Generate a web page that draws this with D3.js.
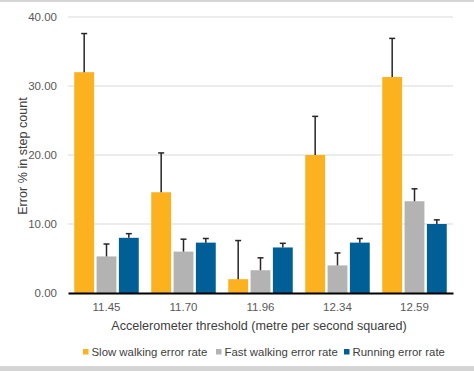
<!DOCTYPE html>
<html><head><meta charset="utf-8">
<script src="https://cdn.jsdelivr.net/npm/d3@7"></script>
<style>body{margin:0;background:#fff}svg{display:block}</style>
</head><body>
<script>
const categories = ["11.45","11.70","11.96","12.34","12.59"];
const seriesNames = ["Slow walking error rate","Fast walking error rate","Running error rate"];
const slowWalking = [32.0, 14.6, 2.0, 20.0, 31.3];
const slowWalkingErr = [5.6, 5.7, 5.6, 5.6, 5.6];
const fastWalking = [5.3, 6.0, 3.3, 4.0, 13.3];
const fastWalkingErr = [1.8, 1.8, 1.8, 1.8, 1.8];
const running = [8.0, 7.3, 6.6, 7.3, 10.0];
const runningErr = [0.6, 0.6, 0.6, 0.6, 0.6];
const yTicks = [0, 10, 20, 30, 40];
const colors = ["#FCB11F", "#B3B3B3", "#005F96"];

const W = 474, H = 371;
const m = {left: 68, right: 21, top: 17, bottom: 78};
const svg = d3.select("body").append("svg").attr("width", W).attr("height", H)
  .style("font-family", "'Liberation Sans', Arial, sans-serif");

svg.append("rect").attr("x",0).attr("y",0).attr("width",W).attr("height",2).attr("fill","#d4d4d4");
svg.append("rect").attr("x",0).attr("y",366).attr("width",W).attr("height",5).attr("fill","#d4d4d4");

const x = d3.scaleBand().domain(categories).range([m.left, W - m.right]).paddingInner(0).paddingOuter(0);
const y = d3.scaleLinear().domain([0, 40]).range([H - m.bottom, m.top]);
const x1 = d3.scaleBand().domain(seriesNames).range([0, x.bandwidth()]).paddingInner(0.11).paddingOuter(0.28);

// gridlines
svg.append("g").selectAll("line").data(yTicks.filter(d=>d>0)).join("line")
  .attr("x1", m.left).attr("x2", W - m.right)
  .attr("y1", d=>y(d)).attr("y2", d=>y(d))
  .attr("stroke", "#d9d9d9").attr("stroke-width", 1);

// y axis
const ya = svg.append("g").attr("transform", `translate(${m.left},0)`)
  .call(d3.axisLeft(y).tickValues(yTicks).tickFormat(d3.format(".2f")).tickSize(0).tickPadding(11));
ya.select(".domain").remove();
ya.selectAll("text").attr("font-size", 11.5).attr("fill", "#595959").style("font-family","inherit");

const data = [
  {vals: slowWalking, errs: slowWalkingErr},
  {vals: fastWalking, errs: fastWalkingErr},
  {vals: running, errs: runningErr}
];

const items = [];
data.forEach((s, si) => s.vals.forEach((v, ci) => items.push({cat: categories[ci], ser: seriesNames[si], si, v, e: s.errs[ci]})));

const g = svg.append("g");
g.selectAll("rect").data(items).join("rect")
  .attr("x", d => x(d.cat) + x1(d.ser))
  .attr("width", x1.bandwidth())
  .attr("y", d => y(d.v))
  .attr("height", d => y(0) - y(d.v))
  .attr("fill", d => colors[d.si]);

// error bars
const eb = svg.append("g").attr("stroke", "#262626").attr("stroke-width", 1.5);
eb.selectAll("line.v").data(items).join("line").attr("class","v")
  .attr("x1", d => x(d.cat) + x1(d.ser) + x1.bandwidth()/2)
  .attr("x2", d => x(d.cat) + x1(d.ser) + x1.bandwidth()/2)
  .attr("y1", d => y(d.v)).attr("y2", d => y(d.v + d.e));
eb.selectAll("line.c").data(items).join("line").attr("class","c")
  .attr("x1", d => x(d.cat) + x1(d.ser) + x1.bandwidth()/2 - 3)
  .attr("x2", d => x(d.cat) + x1(d.ser) + x1.bandwidth()/2 + 3)
  .attr("y1", d => y(d.v + d.e)).attr("y2", d => y(d.v + d.e));

// x axis
const xa = svg.append("g").attr("transform", `translate(0,${y(0)})`)
  .call(d3.axisBottom(x).tickSize(0).tickPadding(10));
xa.select(".domain").attr("stroke", "#000").attr("stroke-width", 2);
xa.selectAll("text").attr("font-size", 11.5).attr("fill", "#595959").style("font-family","inherit");

// titles
svg.append("text").attr("x", 259).attr("y", 330)
  .attr("text-anchor", "middle").attr("font-size", 12.6).attr("fill", "#404040")
  .text("Accelerometer threshold (metre per second squared)");
svg.append("text").attr("transform", `translate(27,156) rotate(-90)`)
  .attr("text-anchor", "middle").attr("font-size", 12.6).attr("fill", "#404040")
  .text("Error % in step count");

// legend
const legX = [83, 216, 344];
const lg = svg.append("g");
seriesNames.forEach((n, i) => {
  lg.append("rect").attr("x", legX[i]).attr("y", 349).attr("width", 5.5).attr("height", 5.5).attr("fill", colors[i]);
  lg.append("text").attr("x", legX[i] + 8.5).attr("y", 356).attr("font-size", 11.4).attr("fill", "#404040").text(n);
});
</script>
</body></html>
